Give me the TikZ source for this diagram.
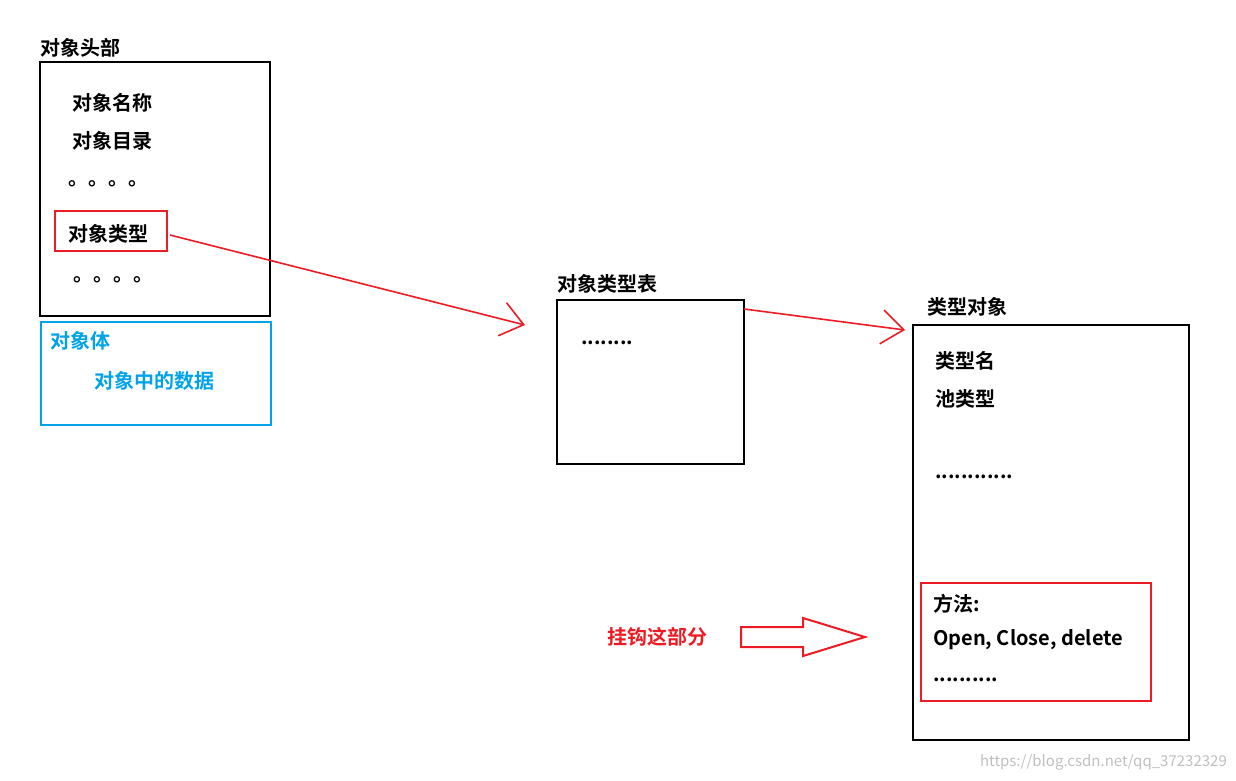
\documentclass[tikz,border=0pt]{standalone}
\usepackage{fontspec}
\setmainfont{Noto Sans CJK SC}[BoldFont={* Bold}]
\usetikzlibrary{arrows.meta}
\definecolor{myred}{RGB}{237,28,36}
\definecolor{myblue}{RGB}{0,162,232}
\tikzset{
 box/.style={draw=black,line width=2pt},
 rbox/.style={draw=myred,line width=2pt},
 txt/.style={anchor=west,inner sep=0pt,font=\fontsize{20}{24}\selectfont\bfseries},
 rarrow/.style={draw=myred,line width=1.6pt,-{Straight Barb[length=22pt,width=34pt,line width=1.6pt]}}
}
\begin{document}
\begin{tikzpicture}[x=1pt,y=-1pt]
\useasboundingbox (0,0) rectangle (1236,780);
\node[txt] (h) at (40,48) {对象头部};
\draw[box] (40,62) rectangle (270,316);
\node[txt] (n1) at (72,103) {对象名称};
\node[txt] (n2) at (72,141) {对象目录};
\node[txt] (d1) at (68,184) {。。。。};
\draw[rbox] (55,211) rectangle (167,251);
\node[txt] (t) at (68,234) {对象类型};
\node[txt] (d2) at (73,280) {。。。。};
\draw[draw=myblue,line width=2pt] (41,322) rectangle (271,425);
\node[txt,text=myblue] (b1) at (50,341) {对象体};
\node[txt,text=myblue] (b2) at (94,381) {对象中的数据};
\coordinate (a1s) at (170,235);
\coordinate (a1e) at (525,325);
\draw[rarrow] (a1s) -- (a1e);
\node[txt] (tt) at (557,284) {对象类型表};
\draw[box] (557,300) rectangle (744,464);
\node[txt] (td) at (581,343) {........};
\coordinate (a2s) at (744,309);
\coordinate (a2e) at (905,330);
\draw[rarrow] (a2s) -- (a2e);
\node[txt] (to) at (927,307) {类型对象};
\draw[box] (913,325) rectangle (1189,740);
\node[txt] (o1) at (935,361) {类型名};
\node[txt] (o2) at (935,399) {池类型};
\node[txt] (o3) at (935,477) {............};
\draw[rbox] (921,583) rectangle (1151,701);
\node[txt] (m1) at (933,604) {方法:};
\node[txt] (m2) at (933,640) {Open, Close, delete};
\node[txt] (m3) at (933,680) {..........};
\node[txt,text=myred] (hk) at (607,637) {挂钩这部分};
\draw[draw=myred,line width=2pt] (741,627) -- (803,627) -- (803,618) -- (865,637) -- (803,656) -- (803,647) -- (741,647) -- cycle;
\node[anchor=east,inner sep=0pt,text=black!25,font=\fontsize{15}{18}\selectfont] (wm) at (1227,762) {https://blog.csdn.net/qq\_37232329};
\end{tikzpicture}
\end{document}
